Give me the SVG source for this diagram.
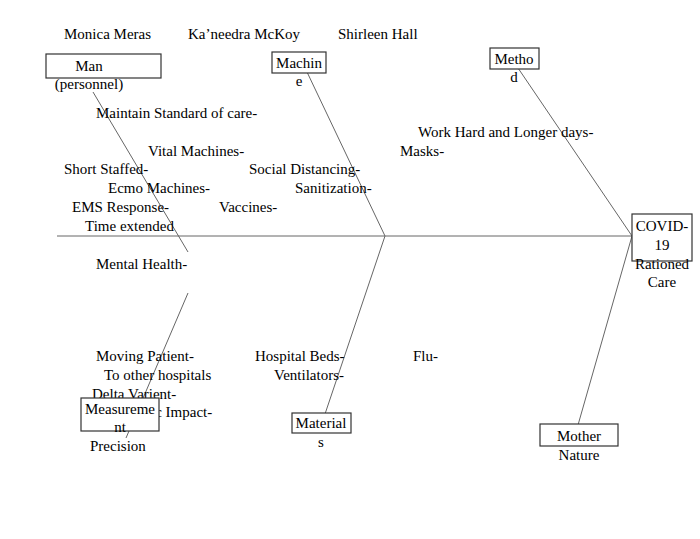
<svg xmlns="http://www.w3.org/2000/svg" width="700" height="539" viewBox="0 0 700 539">
<style>
text{font-family:"Liberation Serif",serif;font-size:15px;fill:#000}
.c{text-anchor:middle}
.b{fill:#fff;stroke:#333;stroke-width:1.2}
line{stroke:#666;stroke-width:1}
</style>
<rect width="700" height="539" fill="#fff"/>
<g id="connectors">
<line x1="57" y1="236" x2="632" y2="236" stroke="#999" stroke-width="2"/>
<line x1="93" y1="92" x2="188" y2="252"/>
<line x1="188" y1="293" x2="126" y2="438"/>
<line x1="307" y1="72" x2="385" y2="236"/>
<line x1="518" y1="68" x2="632" y2="236"/>
<line x1="385" y1="236" x2="325" y2="414"/>
<line x1="632" y1="236" x2="578" y2="425"/>
</g>
<g id="labels">
<text x="64" y="39">Monica Meras</text>
<text x="188" y="39">Ka’needra McKoy</text>
<text x="338" y="39">Shirleen Hall</text>
<text x="96" y="118">Maintain Standard of care-</text>
<text x="148" y="156">Vital Machines-</text>
<text x="64" y="174">Short Staffed-</text>
<text x="108" y="193">Ecmo Machines-</text>
<text x="72" y="212">EMS Response-</text>
<text x="85" y="231">Time extended</text>
<text x="249" y="174">Social Distancing-</text>
<text x="295" y="193">Sanitization-</text>
<text x="219" y="212">Vaccines-</text>
<text x="418" y="137">Work Hard and Longer days-</text>
<text x="400" y="156">Masks-</text>
<text x="96" y="269">Mental Health-</text>
<text x="96" y="361">Moving Patient-</text>
<text x="104" y="380">To other hospitals</text>
<text x="92" y="399">Delta Varient-</text>
<text x="101" y="417">Economic Impact-</text>
<text x="90" y="451">Precision</text>
<text x="255" y="361">Hospital Beds-</text>
<text x="274" y="380">Ventilators-</text>
<text x="413" y="361">Flu-</text>
</g>
<g id="man"><rect class="b" x="46" y="54" width="115" height="24"/><text class="c" x="89" y="71">Man</text><text class="c" x="89" y="89">(personnel)</text></g>
<g id="machine"><rect class="b" x="272" y="52" width="54" height="21"/><text class="c" x="299" y="68">Machin</text><text class="c" x="299" y="86">e</text></g>
<g id="method"><rect class="b" x="490" y="48" width="49" height="21"/><text class="c" x="514" y="64">Metho</text><text class="c" x="514" y="82">d</text></g>
<g id="covid"><rect class="b" x="632" y="214" width="60" height="47"/><text class="c" x="662" y="231">COVID-</text><text class="c" x="662" y="250">19</text><text class="c" x="662" y="269">Rationed</text><text class="c" x="662" y="287">Care</text></g>
<g id="measurement"><rect class="b" x="81" y="398" width="78" height="33"/><text class="c" x="120" y="414">Measureme</text><text class="c" x="120" y="432">nt</text></g>
<g id="materials"><rect class="b" x="292" y="413" width="59" height="20"/><text class="c" x="321" y="428">Material</text><text class="c" x="321" y="447">s</text></g>
<g id="mother"><rect class="b" x="540" y="424" width="78" height="22"/><text class="c" x="579" y="441">Mother</text><text class="c" x="579" y="460">Nature</text></g>
</svg>
